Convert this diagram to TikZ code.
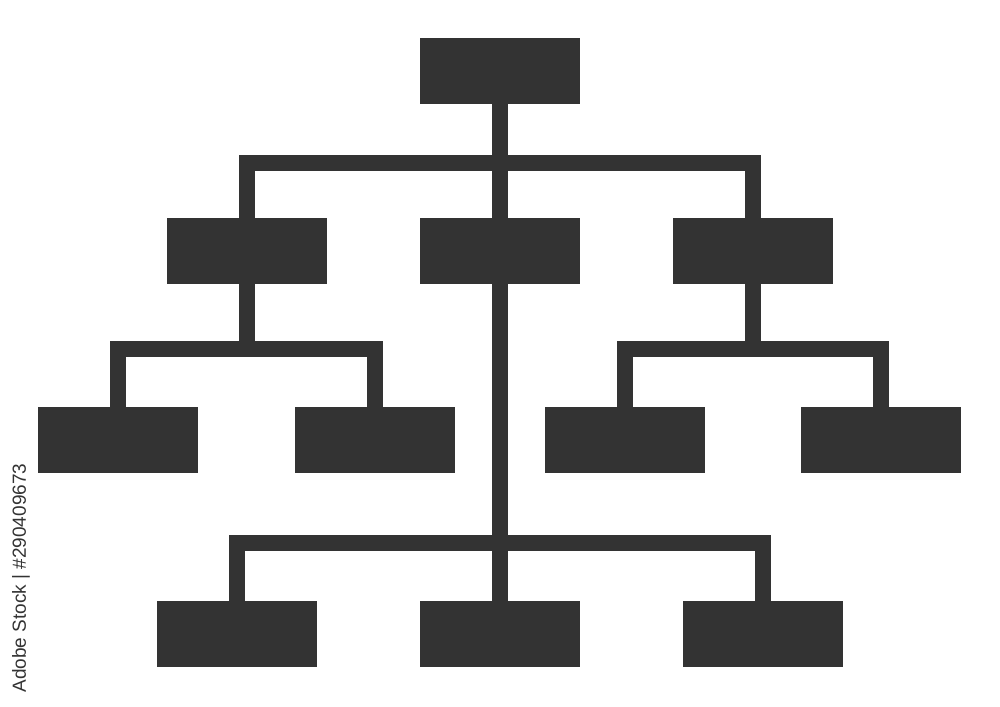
\documentclass[tikz,border=0pt]{standalone}
\usepackage{fontspec}
\setsansfont{Liberation Sans}
\definecolor{boxgray}{HTML}{333333}
\tikzstyle{box} = [rectangle,fill=boxgray,inner sep=0pt,minimum width=1.6cm,minimum height=0.65cm]
\tikzstyle{link} = [draw=boxgray,line width=0.16cm,line join=miter]
\begin{document}
\begin{tikzpicture}[x=0.01cm,y=-0.01cm]
		\useasboundingbox (0,0) rectangle (1000,706);
		\node[box] (n1) at (500,71) {};
		\node[box] (n2) at (247,251) {};
		\node[box] (n3) at (500,251) {};
		\node[box] (n4) at (753,251) {};
		\node[box] (n5) at (118,440) {};
		\node[box] (n6) at (375,440) {};
		\node[box] (n7) at (625,440) {};
		\node[box] (n8) at (881,440) {};
		\node[box] (n9) at (237,634) {};
		\node[box] (n10) at (500,634) {};
		\node[box] (n11) at (763,634) {};
		\coordinate (b1) at (500,163);
		\coordinate (b2) at (247,349);
		\coordinate (b3) at (753,349);
		\coordinate (b4) at (500,543);
		\draw[link] (n1.south) -- (n3.north);
		\draw[link] (n2.north) |- (b1) -| (n4.north);
		\draw[link] (n3.south) -- (n10.north);
		\draw[link] (n2.south) -- (b2);
		\draw[link] (n5.north) |- (b2) -| (n6.north);
		\draw[link] (n4.south) -- (b3);
		\draw[link] (n7.north) |- (b3) -| (n8.north);
		\draw[link] (n9.north) |- (b4) -| (n11.north);
		
		\node[rotate=90,text=boxgray,font=\sffamily\fontsize{5.4}{6}\selectfont,inner sep=0pt] (mark) at (21,578) {Adobe Stock | \#290409673};
		\end{tikzpicture}
\end{document}
